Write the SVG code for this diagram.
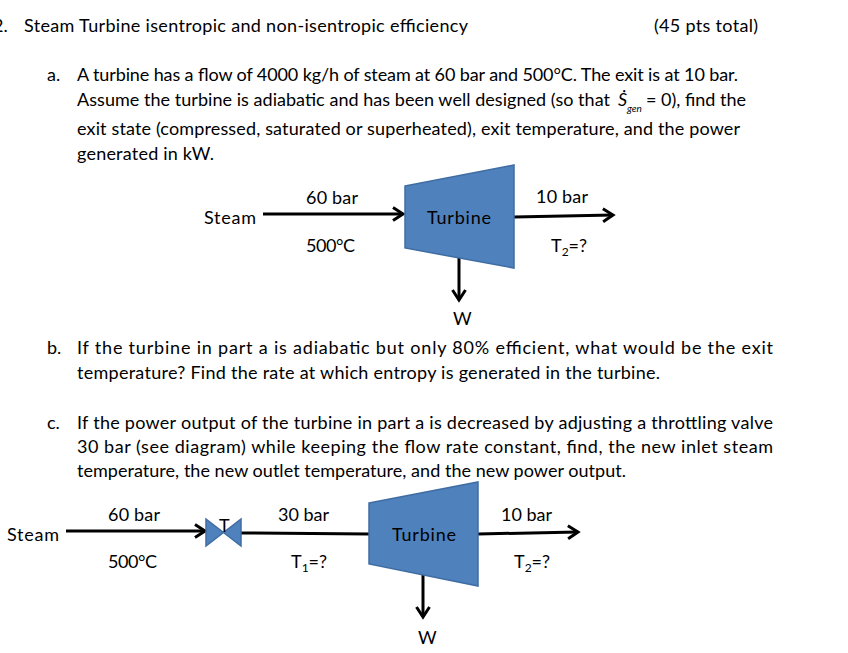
<svg xmlns="http://www.w3.org/2000/svg" width="848" height="653" viewBox="0 0 848 653">
<style>
text{font-family:"Lato","Open Sans","Liberation Sans",sans-serif;font-size:18px;fill:#000}
.sub{font-size:12px}
.shape{fill:#4f81bd;stroke:#3f6da3;stroke-width:1.5}
.w{fill:none;stroke:#000;stroke-width:3}
</style>
<defs>
<marker id="arrow" markerUnits="userSpaceOnUse" markerWidth="16" markerHeight="18" refX="13" refY="8" orient="auto" viewBox="0 0 16 16">
<path d="M3 1.5L13 8L3 14.5" fill="none" stroke="#000" stroke-width="3"/>
</marker>
</defs>
<rect width="848" height="653" fill="#fff"/>
<g id="problem-text">
<text x="-7" y="32">2.</text>
<text x="24" y="32" textLength="444" lengthAdjust="spacing">Steam Turbine isentropic and non-isentropic efficiency</text>
<text x="654" y="32" textLength="104" lengthAdjust="spacing">(45 pts total)</text>
<text x="47" y="81">a.</text>
<text x="77" y="81" textLength="661" lengthAdjust="spacing">A turbine has a flow of 4000 kg/h of steam at 60 bar and 500°C. The exit is at 10 bar.</text>
<text x="77" y="106" textLength="533" lengthAdjust="spacing">Assume the turbine is adiabatic and has been well designed (so that</text>
<text x="618" y="106" font-style="italic">Ṡ</text>
<text x="627" y="112" style="font-size:10px;font-style:italic">gen</text>
<text x="646" y="106" textLength="100" lengthAdjust="spacing">= 0), find the</text>
<text x="77" y="135" textLength="663" lengthAdjust="spacing">exit state (compressed, saturated or superheated), exit temperature, and the power</text>
<text x="77" y="160" textLength="137" lengthAdjust="spacing">generated in kW.</text>
<text x="47" y="354">b.</text>
<text x="77" y="354" textLength="696" lengthAdjust="spacing">If the turbine in part a is adiabatic but only 80% efficient, what would be the exit</text>
<text x="77" y="379" textLength="583" lengthAdjust="spacing">temperature? Find the rate at which entropy is generated in the turbine.</text>
<text x="47" y="429">c.</text>
<text x="77" y="429" textLength="696" lengthAdjust="spacing">If the power output of the turbine in part a is decreased by adjusting a throttling valve</text>
<text x="77" y="453" textLength="696" lengthAdjust="spacing">30 bar (see diagram) while keeping the flow rate constant, find, the new inlet steam</text>
<text x="77" y="477" textLength="549" lengthAdjust="spacing">temperature, the new outlet temperature, and the new power output.</text>
</g>
<g id="connectors">
<line class="w" x1="263" y1="214" x2="403" y2="214" marker-end="url(#arrow)"/>
<line class="w" x1="514" y1="217" x2="613" y2="215" marker-end="url(#arrow)"/>
<line class="w" x1="459" y1="257" x2="459" y2="300" marker-end="url(#arrow)"/>
<line class="w" x1="66" y1="531" x2="205" y2="531" marker-end="url(#arrow)"/>
<line class="w" x1="240" y1="533" x2="369" y2="534"/>
<line class="w" x1="478" y1="534" x2="578" y2="532" marker-end="url(#arrow)"/>
<line class="w" x1="423" y1="575" x2="423" y2="617" marker-end="url(#arrow)"/>
</g>
<g id="turbine-1">
<path class="shape" d="M405 186L514 165V268L405 248Z"/>
<text x="427" y="224" textLength="64" lengthAdjust="spacing">Turbine</text>
</g>
<g id="labels-1">
<text x="204" y="224" textLength="52" lengthAdjust="spacing">Steam</text>
<text x="306" y="204" textLength="52" lengthAdjust="spacing">60 bar</text>
<text x="306" y="252" textLength="49" lengthAdjust="spacing">500°C</text>
<text x="536" y="203" textLength="52" lengthAdjust="spacing">10 bar</text>
<text x="551" y="252">T<tspan class="sub" dy="4">2</tspan><tspan dy="-4">=?</tspan></text>
<text x="453" y="325" textLength="18" lengthAdjust="spacing">W</text>
</g>
<g id="valve">
<path class="shape" d="M206 519L241 546V519L206 546Z"/>
<text x="219" y="532">T</text>
</g>
<g id="turbine-2">
<path class="shape" d="M369 503L478 482V586L369 564Z"/>
<text x="392" y="541" textLength="64" lengthAdjust="spacing">Turbine</text>
</g>
<g id="labels-2">
<text x="7" y="541" textLength="52" lengthAdjust="spacing">Steam</text>
<text x="108" y="521" textLength="52" lengthAdjust="spacing">60 bar</text>
<text x="108" y="568" textLength="49" lengthAdjust="spacing">500°C</text>
<text x="278" y="521" textLength="51" lengthAdjust="spacing">30 bar</text>
<text x="291" y="568">T<tspan class="sub" dy="4">1</tspan><tspan dy="-4">=?</tspan></text>
<text x="501" y="521" textLength="51" lengthAdjust="spacing">10 bar</text>
<text x="514" y="568">T<tspan class="sub" dy="4">2</tspan><tspan dy="-4">=?</tspan></text>
<text x="418" y="644" textLength="18" lengthAdjust="spacing">W</text>
</g>
</svg>
